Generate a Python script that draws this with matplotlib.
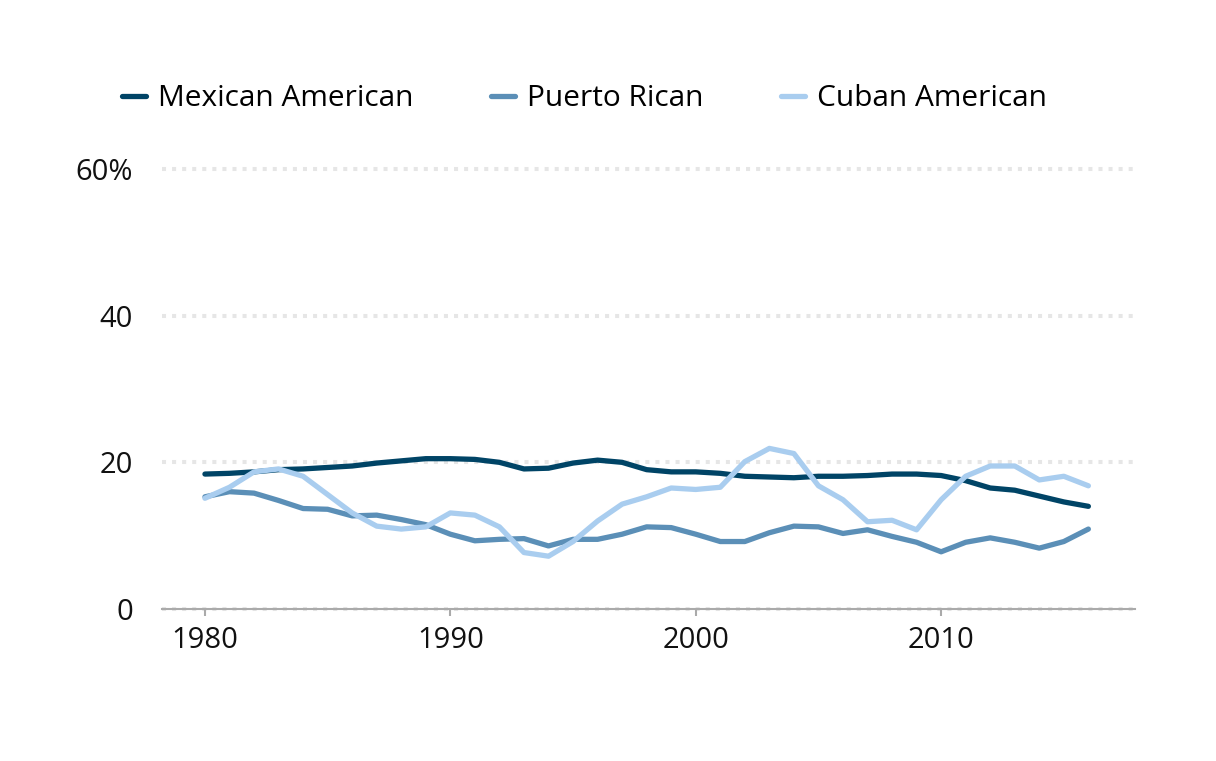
import matplotlib
matplotlib.use("Agg")
import matplotlib.pyplot as plt

plt.rcParams['font.family'] = ['Open Sans', 'DejaVu Sans']

years = list(range(1980, 2017))

mexican_american = [18.4, 18.5, 18.7, 19.0, 19.1, 19.3, 19.5, 19.9, 20.2, 20.5,
                    20.5, 20.4, 20.0, 19.1, 19.2, 19.9, 20.3, 20.0, 19.0, 18.7,
                    18.7, 18.5, 18.1, 18.0, 17.9, 18.1, 18.1, 18.2, 18.4, 18.4,
                    18.2, 17.5, 16.5, 16.2, 15.4, 14.6, 14.0]
puerto_rican = [15.3, 16.0, 15.8, 14.8, 13.7, 13.6, 12.7, 12.8, 12.2, 11.5,
                10.2, 9.3, 9.5, 9.6, 8.6, 9.5, 9.5, 10.2, 11.2, 11.1,
                10.2, 9.2, 9.2, 10.4, 11.3, 11.2, 10.3, 10.8, 9.9, 9.1,
                7.8, 9.1, 9.7, 9.1, 8.3, 9.2, 10.9]
cuban_american = [15.1, 16.6, 18.7, 19.1, 18.1, 15.6, 13.1, 11.3, 10.9, 11.2,
                  13.1, 12.8, 11.2, 7.7, 7.2, 9.2, 12.0, 14.3, 15.3, 16.5,
                  16.3, 16.6, 20.1, 21.9, 21.2, 16.8, 14.9, 11.9, 12.1, 10.8,
                  14.9, 18.1, 19.5, 19.5, 17.6, 18.1, 16.8]

series = [("Mexican American", mexican_american, "#004466"),
          ("Puerto Rican", puerto_rican, "#5b8fb7"),
          ("Cuban American", cuban_american, "#a9cdef")]

fig = plt.figure(figsize=(12.16, 7.61), dpi=100)
ax = fig.add_axes([162 / 1216, 1 - 609 / 761, (1135 - 162) / 1216, (609 - 169) / 761])

for label, values, color in series:
    ax.plot(years, values, color=color, lw=3.8, label=label,
            solid_capstyle='round', solid_joinstyle='round', zorder=3)

ax.set_xlim(1978.25, 2017.9)
ax.set_ylim(0, 60)

yticks = [0, 20, 40, 60]
ax.set_yticks(yticks)
ax.set_yticklabels(["0", "20", "40", "60%"])
ax.set_xticks([1980, 1990, 2000, 2010])

for y in yticks:
    ax.axhline(y, color="#e6e6e6", lw=2.9, linestyle=(0, (1, 1.5)),
               dash_capstyle='butt', zorder=1, clip_on=False)

for s in ["top", "right", "left"]:
    ax.spines[s].set_visible(False)
ax.spines["bottom"].set_color("#aaaaaa")
ax.spines["bottom"].set_linewidth(1.5)
ax.spines["bottom"].set_zorder(2)

ax.tick_params(axis='y', length=0, pad=21, labelsize=21, labelcolor="#111111")
ax.tick_params(axis='x', length=5, width=1.5, color="#aaaaaa", pad=7,
               labelsize=21, labelcolor="#111111")

fig.legend(loc='center left', bbox_to_anchor=(110 / 1216, 1 - 99 / 761),
           ncol=3, frameon=False, fontsize=21.5, handlelength=0.8,
           handletextpad=0.4, columnspacing=2.6, borderaxespad=0)

fig.savefig("out.png", dpi=100)
